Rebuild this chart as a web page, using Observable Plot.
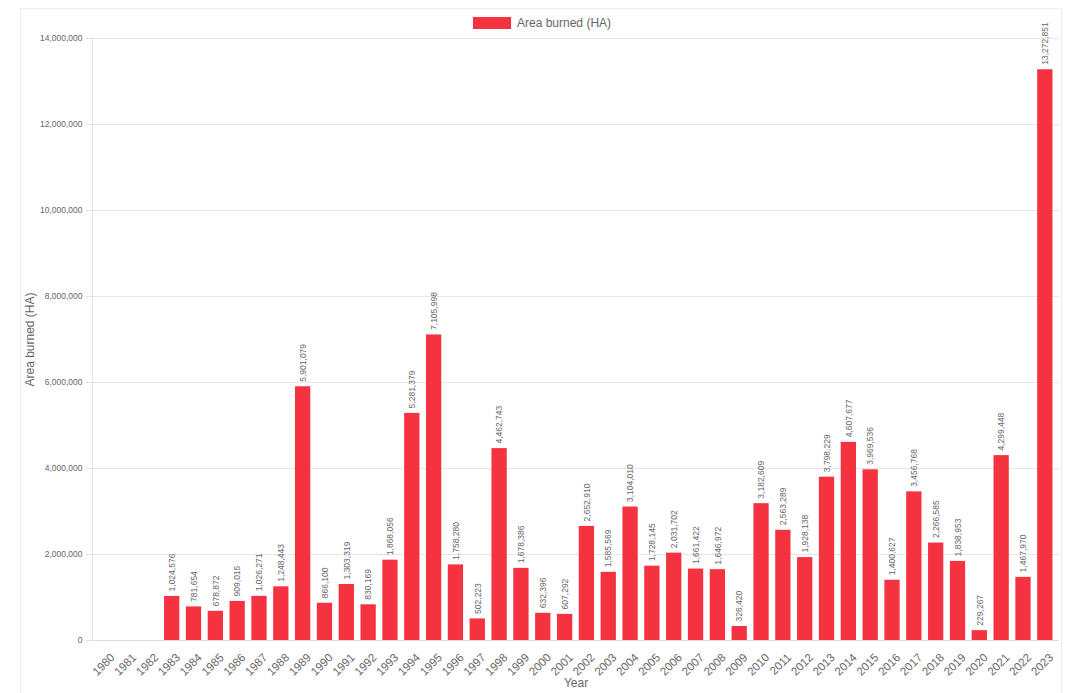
<!DOCTYPE html>
<html><head><meta charset="utf-8">
<script src="https://cdn.jsdelivr.net/npm/d3@7"></script>
<script src="https://cdn.jsdelivr.net/npm/@observablehq/plot@0.6"></script>
<style>
body{margin:0;background:#fff;font-family:"Liberation Sans",Arial,sans-serif;}
#wrap{position:relative;width:1080px;height:693px;overflow:hidden;background:#fff;}
#card{position:absolute;left:20px;top:8px;width:1042px;height:720px;border:1px solid #eeeeee;box-sizing:border-box;}
#legend{position:absolute;top:17px;left:473px;display:flex;align-items:center;font-size:12px;color:#666;line-height:12px;}
#legend .sw{display:inline-block;width:38px;height:12px;background:#f5323f;margin-right:6px;}
#chart{position:absolute;left:0;top:0;}
</style></head><body>
<div id="wrap"><div id="card"></div><div id="chart"></div><div id="legend"><span class="sw"></span><span>Area burned (HA)</span></div></div>
<script>
const years = ["1980","1981","1982","1983","1984","1985","1986","1987","1988","1989","1990","1991","1992","1993","1994","1995","1996","1997","1998","1999","2000","2001","2002","2003","2004","2005","2006","2007","2008","2009","2010","2011","2012","2013","2014","2015","2016","2017","2018","2019","2020","2021","2022","2023"];
const areaBurned = [null,null,null,1024576,781654,678872,909015,1026271,1248443,5901079,866100,1303319,830169,1868056,5281379,7105998,1758280,502223,4462743,1678386,632396,607292,2652910,1585569,3104010,1728145,2031702,1661422,1646972,326420,3182609,2563289,1928138,3798229,4607677,3969536,1400627,3456768,2266585,1838953,229267,4299448,1467970,13272851];
const yTicks = [0,2000000,4000000,6000000,8000000,10000000,12000000,14000000];
const seriesName = "Area burned (HA)";
const xTitle = "Year";

const data = years.map((y,i)=>({year:y, value:areaBurned[i]}));
const shown = data.filter(d=>d.value!=null);
const fmt = d3.format(",");
const barColor = "#f5323f";

const chart = Plot.plot({
  width:1080, height:693,
  marginLeft:92, marginRight:21, marginTop:38, marginBottom:53,
  style:{fontFamily:'"Liberation Sans", Arial, sans-serif', background:"transparent", color:"#666"},
  x:{type:"band", domain:years, padding:0.3},
  y:{domain:[0,14000000]},
  marks:[
    Plot.gridY(yTicks,{stroke:"#e6e6e6", strokeOpacity:1}),
    Plot.frame({anchor:"left", stroke:"#e2e2e2"}),
    Plot.ruleY([0],{stroke:"#dcdcdc"}),
    Plot.barY(shown,{x:"year", y:"value", fill:barColor}),
    Plot.text(shown,{x:"year", y:"value", text:d=>fmt(d.value), rotate:-90, textAnchor:"start", dy:-5, fontSize:8.5, fill:"#666"}),
    Plot.axisY(yTicks,{tickFormat:fmt, tickSize:6, tickPadding:4, fontSize:8.5, stroke:"#e2e2e2", fill:"#666", label:null}),
    Plot.axisX({tickRotate:-45, tickSize:0, tickPadding:15, dx:6, fontSize:11.5, fill:"#666", label:null}),
    Plot.text([seriesName],{frameAnchor:"left", textAnchor:"middle", rotate:-90, dx:-62, fontSize:12, fill:"#666"}),
    Plot.text([xTitle],{frameAnchor:"bottom", textAnchor:"middle", dy:46, fontSize:12, fill:"#666"})
  ]
});
document.getElementById("chart").appendChild(chart);
</script>
</body></html>
